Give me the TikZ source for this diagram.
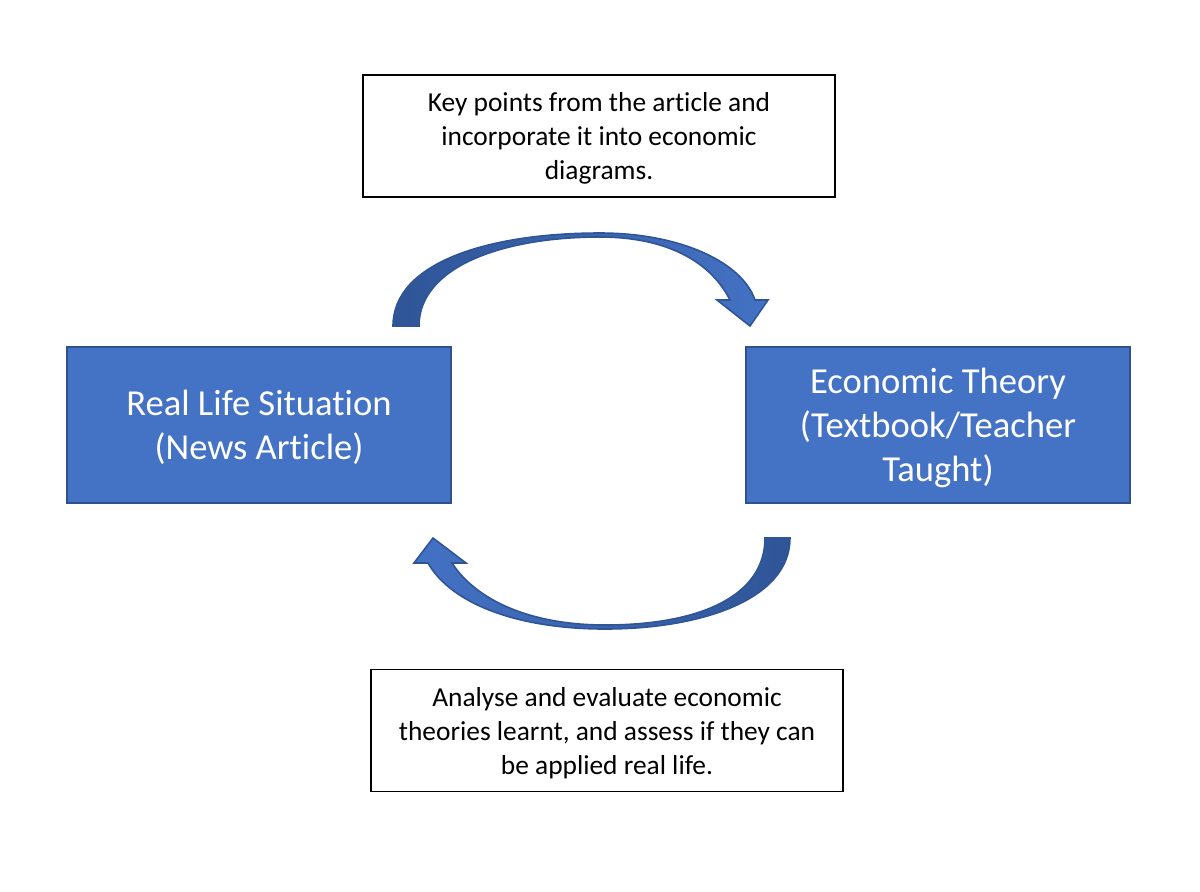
\documentclass[tikz,border=0pt]{standalone}
\usepackage{fontspec}
\setmainfont[Ligatures=NoCommon]{Carlito}
\usepackage{tikz}
\usetikzlibrary{positioning}
\usepackage{xcolor}
\definecolor{boxblue}{HTML}{4472C4}
\definecolor{boxedge}{HTML}{2F528F}
\definecolor{darkblue}{HTML}{2F5597}
\tikzset{
  block/.style={
    rectangle,
    draw=boxedge,
    line width=1pt,
    fill=boxblue,
    text=white,
    align=center,
    minimum width=192pt,
    minimum height=78pt,
    inner sep=0pt,
    text depth=-3pt,
    font=\fontsize{18.3}{22}\selectfont
  },
  notebox/.style={
    rectangle,
    draw=black,
    line width=0.6pt,
    fill=white,
    align=center,
    minimum width=236pt,
    minimum height=61pt,
    inner sep=0pt,
    text depth=-3pt,
    font=\fontsize{13.7}{17}\selectfont
  },
  bigarrow/.style={
    draw=darkblue,
    line width=0.8pt,
    line join=miter
  }
}
\begin{document}
\begin{tikzpicture}[x=0.5pt,y=-0.5pt]
\useasboundingbox (0,0) rectangle (1200,891);

% Notes
\node[notebox] (keypoints) at (599,136) {Key points from the article and\\incorporate it into economic\\diagrams.};
\node[notebox] (analyse) at (607,730.5) {Analyse and evaluate economic\\theories learnt, and assess if they can\\be applied real life.};

% Main boxes
\node[block] (real) at (259,425) {Real Life Situation\\(News Article)};
\node[block] (theory) at (938,425) {Economic Theory\\(Textbook/Teacher\\Taught)};

% Top curved arrow
\shade[bigarrow,left color=darkblue,right color=boxblue]
  (393,326) .. controls (393,262) and (490,233) .. (600,233)
  .. controls (680,233) and (742,262) .. (755,300)
  -- (768,300) -- (750,326) -- (717,300) -- (730,300)
  .. controls (712,264) and (670,237) .. (600,237)
  .. controls (500,237) and (419,268) .. (419,326) -- cycle;

% Bottom curved arrow
\shade[bigarrow,left color=boxblue,right color=darkblue]
  (790,538) .. controls (790,600) and (700,629) .. (605,629)
  .. controls (520,629) and (452,605) .. (428,563)
  -- (414,563) -- (433,538) -- (466,563) -- (452,563)
  .. controls (476,600) and (530,625) .. (605,625)
  .. controls (700,625) and (765,596) .. (765,538) -- cycle;
\end{tikzpicture}
\end{document}
